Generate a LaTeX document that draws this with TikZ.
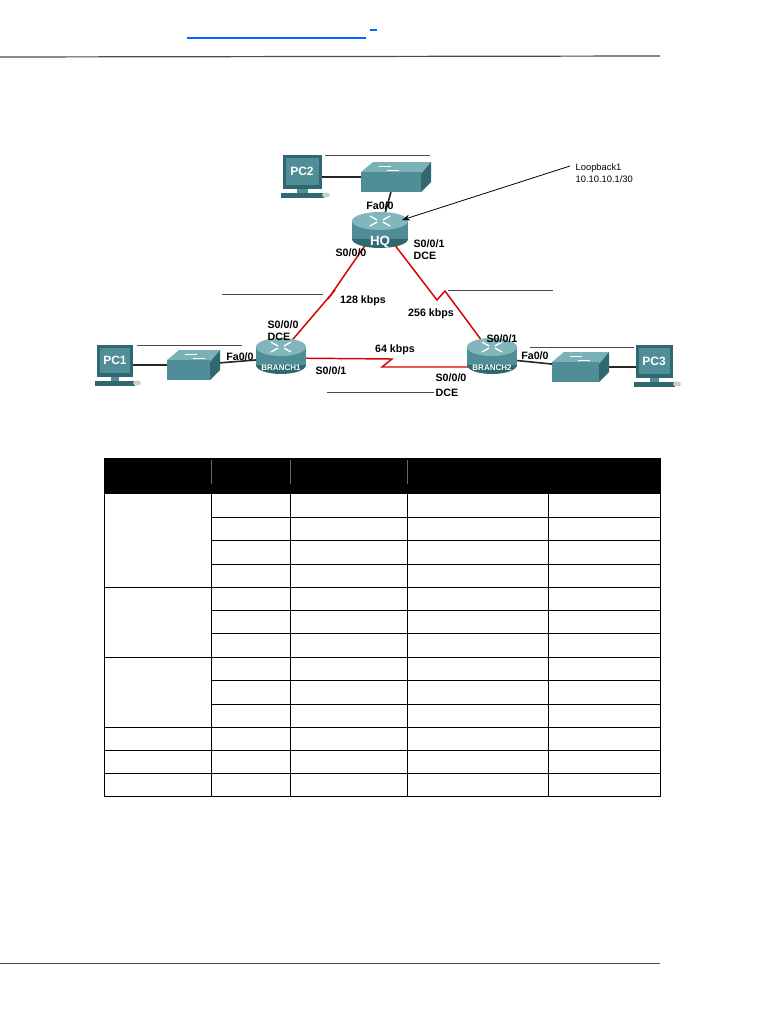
\documentclass[tikz,border=0pt]{standalone}
\usepackage{fontspec}
\setmainfont{Liberation Sans}
\usetikzlibrary{calc,arrows.meta}
\definecolor{teal1}{HTML}{4F8E96}
\definecolor{teal2}{HTML}{2F6870}
\definecolor{teal3}{HTML}{8EC0C6}
\tikzset{
 lbl/.style={font=\fontsize{8}{9}\selectfont\bfseries, inner sep=1pt, align=left},
 gline/.style={draw=black!70, line width=0.6pt},
 wan/.style={draw=red!85!black, line width=1.1pt, line join=miter},
 lan/.style={draw=black!85, line width=1.2pt},
 dev/.style={inner sep=0pt, minimum width=1pt},
 tbl/.style={draw=black, line width=0.7pt},
}
\newcommand\myrouter[3]{% x y w
 \fill[teal2] (#1,#2+10) ellipse[x radius=#3/2, y radius=9];
 \fill[teal1] (#1-#3/2,#2-8) rectangle (#1+#3/2,#2+10);
 \fill[teal3!80!teal1] (#1,#2-8) ellipse[x radius=#3/2, y radius=9];
 \draw[white, line width=1pt] (#1-10,#2-13) -- (#1-3,#2-9) (#1+10,#2-13) -- (#1+3,#2-9)
   (#1-10,#2-3) -- (#1-3,#2-7) (#1+10,#2-3) -- (#1+3,#2-7);
}
\newcommand\myswitch[4]{% x1 y1 x2 y2
 \fill[teal3!70!teal1] (#1,#2+10) -- (#1+12,#2) -- (#3,#2) -- (#3-10,#2+12) -- cycle;
 \fill[teal1] (#1,#2+10) rectangle (#3-10,#4);
 \fill[teal2] (#3-10,#2+12) -- (#3,#2) -- (#3,#4-10) -- (#3-10,#4) -- cycle;
 \draw[white, line width=0.6pt] (#1+18,#2+4) -- (#1+30,#2+4) (#1+26,#2+8) -- (#1+38,#2+8);
}
\newcommand\mypc[4]{% x1 y1 x2 y2 (monitor)
 \fill[teal2] (#1,#2) rectangle (#3,#4);
 \fill[teal1] (#1+3,#2+3) rectangle (#3-3,#4-4);
 \fill[teal2] (#1-2,#4+4) rectangle (#3+2,#4+9);
 \fill[teal1] (#1+14,#4) rectangle (#3-14,#4+4);
 \fill[black!20] (#3+4,#4+6) ellipse[x radius=4, y radius=2.5];
}
\begin{document}
\begin{tikzpicture}[x=0.75pt,y=-0.75pt]
\useasboundingbox (0,0) rectangle (768,1024);
% header / footer lines
\draw[draw=blue!60!cyan, line width=0.8pt] (187,38) -- (366,38);
\draw[draw=blue!60!cyan, line width=0.8pt] (370,30) -- (377,30);
\draw[black!70, line width=0.9pt] (0,57) -- (660,56);
\draw[black!70, line width=0.6pt] (0,963) -- (660,963);

% device anchors
\node[dev] (hq) at (380,232) {};
\node[dev] (br1) at (281,358) {};
\node[dev] (br2) at (492,358) {};
\node[dev] (sw2) at (395,177) {};
\node[dev] (sw1) at (193,365) {};
\node[dev] (sw3) at (581,367) {};
\node[dev] (pc2) at (302,177) {};
\node[dev] (pc1) at (115,365) {};
\node[dev] (pc3) at (654,367) {};
\coordinate (lbk) at (570,166);

% LAN links
\draw[lan] (pc2) -- (sw2);
\draw[lan] (sw2) -- (hq);
\draw[lan] (pc1) -- (sw1);
\draw[lan] (sw1) -- (br1);
\draw[lan] (br2) -- (sw3);
\draw[lan] (sw3) -- (pc3);

% WAN links
\draw[wan] (hq) ++(-14,12) -- (328,299) -- (335,290) -- ($(br1)+(7,-13)$);
\draw[wan] (hq) ++(14,12) -- (437,300) -- (445,291) -- ($(br2)+(-7,-13)$);
\draw[wan] (br1) -- (392,359) -- (382,367) -- ($(br2)+(0,9)$);

% icons
\mypc{283}{155}{322}{189}
\node[text=white, font=\fontsize{9}{10}\selectfont\bfseries] at (302,171) {PC2};
\mypc{97}{345}{133}{377}
\node[text=white, font=\fontsize{9}{10}\selectfont\bfseries] at (115,360) {PC1};
\mypc{636}{345}{673}{378}
\node[text=white, font=\fontsize{9}{10}\selectfont\bfseries] at (654,361) {PC3};
\myswitch{361}{162}{431}{192}
\myswitch{167}{350}{220}{380}
\myswitch{552}{352}{609}{382}
\myrouter{380}{229}{56}
\node[text=white, font=\fontsize{10}{11}\selectfont\bfseries] at (380,242) {HQ};
\myrouter{281}{355}{50}
\node[text=white, font=\fontsize{6}{7}\selectfont\bfseries] at (281,368) {BRANCH1};
\myrouter{492}{355}{50}
\node[text=white, font=\fontsize{6}{7}\selectfont\bfseries] at (492,368) {BRANCH2};

% loopback
\draw[-{Stealth[length=6pt]}, line width=0.6pt] (lbk) -- ($(hq)+(22,-12)$);
\node[anchor=west, font=\fontsize{7}{8.5}\selectfont, align=left] at (571,173) {Loopback1\\10.10.10.1/30};

% labels
\node[lbl] at (380,206) {Fa0/0};
\node[lbl] at (351,253) {S0/0/0};
\node[lbl, anchor=west] at (412,250) {S0/0/1\\DCE};
\node[lbl] at (363,301) {128 kbps};
\node[lbl] at (431,314) {256 kbps};
\node[lbl] at (395,350) {64 kbps};
\node[lbl, anchor=west] at (266,331) {S0/0/0\\DCE};
\node[lbl] at (240,357) {Fa0/0};
\node[lbl] at (331,371) {S0/0/1};
\node[lbl] at (451,378) {S0/0/0};
\node[lbl] at (447,393) {DCE};
\node[lbl] at (502,339) {S0/0/1};
\node[lbl] at (535,356) {Fa0/0};

% placeholder lines
\draw[gline] (325,155) -- (430,155);
\draw[gline] (222,294) -- (323,294);
\draw[gline] (448,290) -- (553,290);
\draw[gline] (137,345) -- (242,345);
\draw[gline] (530,347) -- (634,347);
\draw[gline] (327,392) -- (434,392);

% table
\fill[black] (104,458) rectangle (660,494);
\draw[tbl] (104,458) rectangle (660,796);
\foreach \y in {587,657,727,750,773} \draw[tbl] (104,\y) -- (660,\y);
\foreach \y in {517,540,564,610,633,680,704} \draw[tbl] (211,\y) -- (660,\y);
\foreach \x in {211,290,407,548} \draw[tbl] (\x,494) -- (\x,796);
\foreach \x in {211,290,407} \draw[black!60, line width=0.4pt] (\x,460) -- (\x,484);
\end{tikzpicture}
\end{document}
